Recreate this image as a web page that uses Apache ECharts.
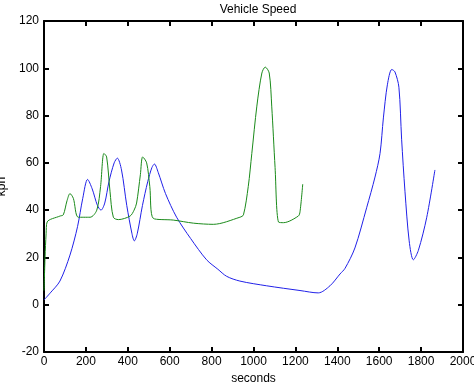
<!DOCTYPE html>
<html>
<head>
<meta charset="utf-8">
<script src="https://cdn.jsdelivr.net/npm/echarts@6/dist/echarts.min.js"></script>
<style>
html,body{margin:0;padding:0;background:#fff;}
#chart{width:474px;height:384px;}
</style>
</head>
<body>
<div id="chart"></div>
<script>
var chartTitle = "Vehicle Speed";
var xAxisName = "seconds";
var yAxisName = "kph";

var blueTime  = [0, 30, 76, 124, 160, 185, 208, 230, 255, 272, 290, 310, 335, 350, 370, 395, 420, 431, 445, 470, 495, 515, 527, 545, 580, 633, 700, 776, 830, 872, 935, 1063, 1222, 1309, 1365, 1413, 1437, 1484, 1540, 1580, 1604, 1620, 1639, 1660, 1675, 1694, 1707, 1723, 1743, 1763, 1787, 1827, 1866];
var blueSpeed = [2, 5, 10, 21, 33, 45, 53, 49, 42, 40, 43, 52, 60, 62, 57, 42, 30, 27, 30, 42, 52, 58, 59.5, 56, 47, 37, 28, 19, 15, 12, 10, 8, 6, 5, 8, 13, 15.4, 24, 41, 54, 64, 79, 93, 99.5, 98.5, 92, 70, 48, 27, 19, 23, 37, 57];

var greenTime  = [0, 5, 10, 15, 76, 92, 110, 124, 140, 164, 220, 252, 270, 286, 299, 315, 331, 355, 411, 430, 442, 460, 471, 490, 505, 522, 617, 713, 808, 935, 952, 975, 992, 1016, 1040, 1056, 1075, 1087, 1103, 1119, 1143, 1214, 1222, 1235];
var greenSpeed = [6, 20, 30, 35, 37.5, 38, 44, 47, 45, 37, 37, 40, 50, 64, 62.5, 48, 37, 36, 37.5, 40, 43, 55, 62.5, 60, 50, 36.5, 35.8, 34.5, 34, 37, 38, 50, 64, 84, 98, 100.5, 98, 84, 58, 35, 34.7, 37.5, 39.3, 51];

function pairs(xs, ys){ return xs.map(function(x,i){ return [x, ys[i]]; }); }

var font = "Liberation Sans";
var chart = echarts.init(document.getElementById('chart'), null, {renderer:'canvas'});
var plain = function(v){ return String(v); };
function axLine(){ return {show:true, onZero:false, lineStyle:{color:'#000', width:2}}; }
function axTick(){ return {show:true, inside:true, length:5, lineStyle:{color:'#000', width:2}}; }
chart.setOption({
  animation:false,
  title:{text:chartTitle, left:253, textAlign:'center', top:-1,
    textStyle:{fontFamily:font, fontSize:12, fontWeight:'normal', color:'#000'}},
  grid:{left:44, right:11, top:21, bottom:32, outerBoundsMode:'none'},
  xAxis:[
    {type:'value', min:0, max:2000, interval:200, position:'bottom',
     name:xAxisName, nameLocation:'middle', nameGap:21,
     nameTextStyle:{fontFamily:font, fontSize:12, color:'#000'},
     axisLine:axLine(), axisTick:axTick(), splitLine:{show:false},
     axisLabel:{fontFamily:font, fontSize:12, color:'#000', margin:4, formatter:plain}},
    {type:'value', min:0, max:2000, interval:200, position:'top',
     axisLine:axLine(), axisTick:axTick(), splitLine:{show:false}, axisLabel:{show:false}}
  ],
  yAxis:[
    {type:'value', min:-20, max:120, interval:20, position:'left',
     name:yAxisName, nameLocation:'middle', nameGap:32,
     nameTextStyle:{fontFamily:font, fontSize:12, color:'#000'},
     axisLine:axLine(), axisTick:axTick(), splitLine:{show:false},
     axisLabel:{fontFamily:font, fontSize:12, color:'#000', margin:5, formatter:plain}},
    {type:'value', min:-20, max:120, interval:20, position:'right',
     axisLine:axLine(), axisTick:axTick(), splitLine:{show:false}, axisLabel:{show:false}}
  ],
  series:[
    {type:'line', name:'blue', data:pairs(blueTime, blueSpeed), xAxisIndex:0, yAxisIndex:0,
     showSymbol:false, smooth:0.3, lineStyle:{color:'#2020e8', width:1}},
    {type:'line', name:'green', data:pairs(greenTime, greenSpeed), xAxisIndex:0, yAxisIndex:0,
     showSymbol:false, smooth:0.3, lineStyle:{color:'#1a8a1a', width:1}},
    {type:'line', name:'frame', data:[], xAxisIndex:1, yAxisIndex:1}
  ]
});
</script>
</body>
</html>
